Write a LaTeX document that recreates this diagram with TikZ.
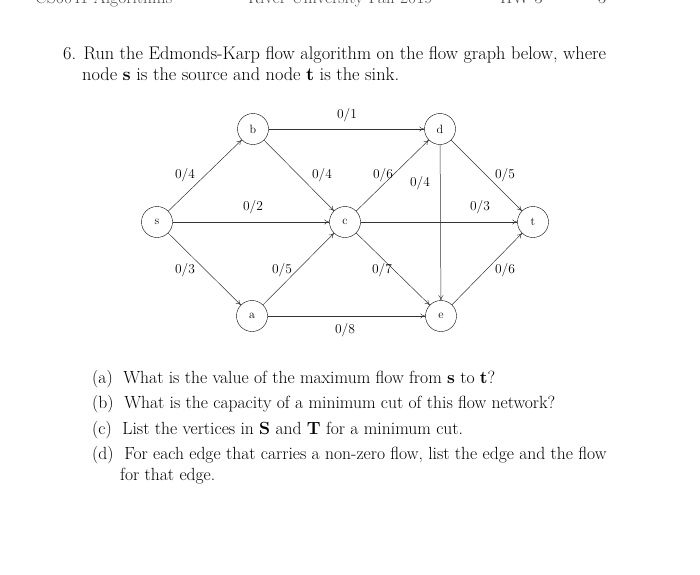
\documentclass[tikz,border=0pt]{standalone}
\usetikzlibrary{arrows.meta}
\begin{document}
\begin{tikzpicture}[x=1pt,y=-1pt,
  vtx/.style={circle,draw,minimum size=31pt,inner sep=0pt,font=\fontsize{12}{12}\selectfont},
  edge/.style={-{To[length=5pt,width=5pt]},draw=black!80,line width=0.5pt},
  lab/.style={font=\fontsize{13.5}{13.5}\selectfont},
  txt/.style={anchor=base west,inner sep=0pt,font=\fontsize{17.6}{20}\selectfont}]
\useasboundingbox (0,0) rectangle (700,574);
\begin{scope}
\clip (0,0) rectangle (700,6);
\node[txt,text=black!70] (h1) at (35,3) {CS6041 Algorithms};
\node[txt,text=black!70] (h2) at (248,3) {River University Fall 2019};
\node[txt,text=black!70] (h3) at (500,3) {HW 3};
\node[txt,text=black!70] (h4) at (598,3) {3};
\end{scope}
\node[txt,font=\fontsize{18.3}{20}\selectfont] (q1) at (63,59) {6. Run the Edmonds-Karp flow algorithm on the flow graph below, where};
\node[txt,font=\fontsize{18.3}{20}\selectfont] (q2) at (82,80) {node \textbf{s} is the source and node \textbf{t} is the sink.};
\node[vtx] (s) at (157,222) {s};
\node[vtx] (b) at (253,129) {b};
\node[vtx] (d) at (440,129) {d};
\node[vtx] (c) at (345,222) {c};
\node[vtx] (t) at (533,222) {t};
\node[vtx] (a) at (252,316) {a};
\node[vtx] (e) at (441,316) {e};
\draw[edge] (s) -- (b);
\draw[edge] (s) -- (c);
\draw[edge] (s) -- (a);
\draw[edge] (b) -- (d);
\draw[edge] (b) -- (c);
\draw[edge] (c) -- (d);
\draw[edge] (d) -- (e);
\draw[edge] (d) -- (t);
\draw[edge] (c) -- (t);
\draw[edge] (a) -- (c);
\draw[edge] (c) -- (e);
\draw[edge] (a) -- (e);
\draw[edge] (e) -- (t);
\node[lab] (l1) at (185,175) {0/4};
\node[lab] (l2) at (253,207) {0/2};
\node[lab] (l3) at (185,270) {0/3};
\node[lab] (l4) at (347,115) {0/1};
\node[lab] (l5) at (322,175) {0/4};
\node[lab] (l6) at (383,175) {0/6};
\node[lab] (l7) at (420,183) {0/4};
\node[lab] (l8) at (505,175) {0/5};
\node[lab] (l9) at (480,207) {0/3};
\node[lab] (l10) at (282,270) {0/5};
\node[lab] (l11) at (382,270) {0/7};
\node[lab] (l12) at (505,270) {0/6};
\node[lab] (l13) at (345,330) {0/8};
\node[txt] (qa) at (92,383) {(a)\ \ What is the value of the maximum flow from \textbf{s} to \textbf{t}?};
\node[txt] (qb) at (92,408) {(b)\ \ What is the capacity of a minimum cut of this flow network?};
\node[txt] (qc) at (92,434) {(c)\ \ List the vertices in \textbf{S} and \textbf{T} for a minimum cut.};
\node[txt] (qd) at (92,459) {(d)\ \ For each edge that carries a non-zero flow, list the edge and the flow};
\node[txt] (qe) at (120,480) {for that edge.};
\end{tikzpicture}
\end{document}
